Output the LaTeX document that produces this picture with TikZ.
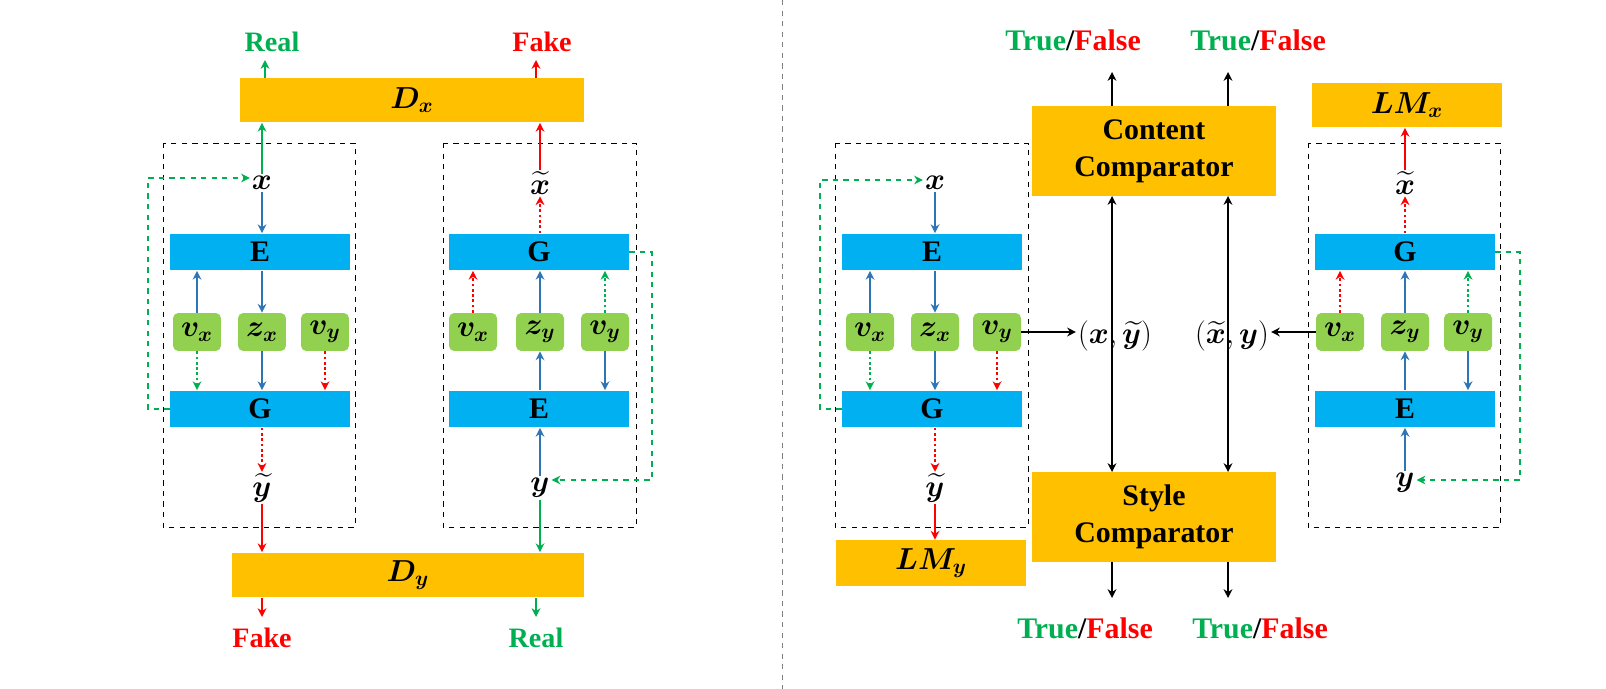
\documentclass[tikz,border=0pt]{standalone}
\usepackage{fontspec}
\setmainfont{Liberation Serif}
\usepackage{amsmath,bm}
\usetikzlibrary{arrows.meta}
\definecolor{bbar}{HTML}{00B0F0}
\definecolor{obar}{HTML}{FFC000}
\definecolor{gbox}{HTML}{92D050}
\definecolor{gtx}{HTML}{00B050}
\definecolor{rtx}{HTML}{FF0000}
\definecolor{barr}{HTML}{2E75B6}
\tikzset{
 bar/.style={fill=bbar,minimum width=3.6cm,minimum height=0.74cm,inner sep=0,font=\bfseries\fontsize{17}{17}\selectfont},
 obar/.style={fill=obar,inner sep=0,font=\bfseries\fontsize{17}{17}\selectfont},
 gb/.style={fill=gbox,rounded corners=3pt,minimum width=0.96cm,minimum height=0.76cm,inner sep=0,font=\fontsize{17}{17}\selectfont},
 var/.style={inner sep=1pt,font=\fontsize{18}{18}\selectfont},
 lab/.style={font=\bfseries\fontsize{16}{16}\selectfont,inner sep=0},
 tip/.style={-{Stealth[length=5pt,width=5pt]},line width=1.4pt},
 ba/.style={tip,draw=barr},
 ga/.style={tip,draw=gtx},
 ra/.style={tip,draw=rtx},
 gd/.style={ga,dash pattern=on 1.5pt off 1.5pt},
 rd/.style={ra,dash pattern=on 1.5pt off 1.5pt},
 gdash/.style={ga,dashed},
 ka/.style={tip,draw=black},
 kb/.style={{Stealth[length=5pt,width=5pt]}-{Stealth[length=5pt,width=5pt]},line width=1.4pt},
 dbox/.style={draw,dashed,thin},
}
\newcommand{\TF}{{\color{gtx}True}/{\color{rtx}False}}
\begin{document}
\begin{tikzpicture}[x=0.02cm,y=-0.02cm]
\useasboundingbox (0,0) rectangle (1606,689);
\draw[gray,dashed,thin] (782,0) -- (782,689);
% ===== LEFT PANEL
\node[obar,minimum width=6.9cm,minimum height=0.9cm] (Dx) at (412,100) {$\bm{D_x}$};
\node[obar,minimum width=7.04cm,minimum height=0.9cm] (Dy) at (408,575) {$\bm{D_y}$};
\node[lab,text=gtx] (real1) at (272,42) {Real};
\node[lab,text=rtx] (fake1) at (542,42) {Fake};
\node[lab,text=rtx] (fake2) at (262,638) {Fake};
\node[lab,text=gtx] (real2) at (536,638) {Real};
\coordinate (r1) at (265,60); \coordinate (f1) at (536,60);
\coordinate (f2) at (262,617); \coordinate (r2) at (536,617);
\draw[ga] (265,78) -- (r1);
\draw[ra] (536,78) -- (f1);
\draw[ra] (262,598) -- (f2);
\draw[ga] (536,598) -- (r2);
\draw[dbox] (163,143) rectangle (355,527);
\draw[dbox] (443,143) rectangle (636,527);
% left box
\node[var] (xa) at (262,183) {$\bm{x}$};
\node[bar] (Ea) at (260,252) {E};
\node[gb] (vxa) at (197,332) {$\bm{v_x}$};
\node[gb] (zxa) at (262,332) {$\bm{z_x}$};
\node[gb] (vya) at (325,332) {$\bm{v_y}$};
\node[bar] (Ga) at (260,409) {G};
\node[var] (yta) at (262,488) {$\bm{\widetilde{y}}$};
\draw[ga] (xa) -- (xa|-Dx.south);
\draw[ba] (xa) -- (xa|-Ea.north);
\draw[ba] (vxa) -- (vxa|-Ea.south);
\draw[ba] (zxa|-Ea.south) -- (zxa);
\draw[ba] (zxa) -- (zxa|-Ga.north);
\draw[gd] (vxa) -- (vxa|-Ga.north);
\draw[rd] (vya) -- (vya|-Ga.north);
\draw[rd] (yta|-Ga.south) -- (yta);
\draw[ra] (yta) -- (yta|-Dy.north);
\draw[gdash] (Ga.west) -- (148,409) -- (148,178) -- (xa.west|-0,178);
% right box
\node[var] (xtb) at (540,183) {$\bm{\widetilde{x}}$};
\node[bar] (Gb) at (539,252) {G};
\node[gb] (vxb) at (473,332) {$\bm{v_x}$};
\node[gb] (zyb) at (540,332) {$\bm{z_y}$};
\node[gb] (vyb) at (605,332) {$\bm{v_y}$};
\node[bar] (Eb) at (539,409) {E};
\node[var] (yb) at (540,488) {$\bm{y}$};
\draw[ra] (xtb) -- (xtb|-Dx.south);
\draw[rd] (xtb|-Gb.north) -- (xtb);
\draw[rd] (vxb) -- (vxb|-Gb.south);
\draw[ba] (zyb) -- (zyb|-Gb.south);
\draw[gd] (vyb) -- (vyb|-Gb.south);
\draw[ba] (zyb|-Eb.north) -- (zyb);
\draw[ba] (vyb) -- (vyb|-Eb.north);
\draw[ba] (yb) -- (yb|-Eb.south);
\draw[ga] (yb) -- (yb|-Dy.north);
\draw[gdash] (Gb.east) -- (652,252) -- (652,480) -- (yb.east|-0,480);
% ===== RIGHT PANEL
\draw[dbox] (835,143) rectangle (1028,527);
\draw[dbox] (1308,143) rectangle (1500,527);
\node[var] (xc) at (935,183) {$\bm{x}$};
\node[bar] (Ec) at (932,252) {E};
\node[gb] (vxc) at (870,332) {$\bm{v_x}$};
\node[gb] (zxc) at (935,332) {$\bm{z_x}$};
\node[gb] (vyc) at (997,332) {$\bm{v_y}$};
\node[bar] (Gc) at (932,409) {G};
\node[var] (ytc) at (935,488) {$\bm{\widetilde{y}}$};
\node[obar,minimum width=3.82cm,minimum height=0.92cm] (LMy) at (931,563) {$\bm{LM_y}$};
\draw[ba] (xc) -- (xc|-Ec.north);
\draw[ba] (vxc) -- (vxc|-Ec.south);
\draw[ba] (zxc|-Ec.south) -- (zxc);
\draw[ba] (zxc) -- (zxc|-Gc.north);
\draw[gd] (vxc) -- (vxc|-Gc.north);
\draw[rd] (vyc) -- (vyc|-Gc.north);
\draw[rd] (ytc|-Gc.south) -- (ytc);
\draw[ra] (ytc) -- (ytc|-LMy.north);
\draw[gdash] (Gc.west) -- (820,409) -- (820,180) -- (xc.west|-0,180);
\node[var] (xtd) at (1405,183) {$\bm{\widetilde{x}}$};
\node[bar] (Gd) at (1405,252) {G};
\node[gb] (vxd) at (1340,332) {$\bm{v_x}$};
\node[gb] (zyd) at (1405,332) {$\bm{z_y}$};
\node[gb] (vyd) at (1468,332) {$\bm{v_y}$};
\node[bar] (Ed) at (1405,409) {E};
\node[var] (yd) at (1405,483) {$\bm{y}$};
\node[obar,minimum width=3.82cm,minimum height=0.9cm] (LMx) at (1407,105) {$\bm{LM_x}$};
\draw[ra] (xtd) -- (xtd|-LMx.south);
\draw[rd] (xtd|-Gd.north) -- (xtd);
\draw[rd] (vxd) -- (vxd|-Gd.south);
\draw[ba] (zyd) -- (zyd|-Gd.south);
\draw[gd] (vyd) -- (vyd|-Gd.south);
\draw[ba] (zyd|-Ed.north) -- (zyd);
\draw[ba] (vyd) -- (vyd|-Ed.north);
\draw[ba] (yd) -- (yd|-Ed.south);
\draw[gdash] (Gd.east) -- (1520,252) -- (1520,480) -- (yd.east|-0,480);
% comparators
\node[obar,minimum width=4.88cm,minimum height=1.8cm,align=center,font=\bfseries\fontsize{17}{21}\selectfont] (CC) at (1154,151) {Content\\Comparator};
\node[obar,minimum width=4.88cm,minimum height=1.8cm,align=center,font=\bfseries\fontsize{17}{21}\selectfont] (SC) at (1154,517) {Style\\Comparator};
\node[var,font=\fontsize{17}{17}\selectfont] (p1) at (1115,336) {$(\bm{x},\bm{\widetilde{y}})$};
\node[var,font=\fontsize{17}{17}\selectfont] (p2) at (1232,336) {$(\bm{\widetilde{x}},\bm{y})$};
\draw[ka] (vyc.east) -- (p1.west|-vyc.east);
\draw[ka] (vxd.west) -- (p2.east|-vxd.west);
\draw[kb] (1112,196) -- (1112,472);
\draw[kb] (1228,196) -- (1228,472);
\node[lab,font=\bfseries\fontsize{17}{17}\selectfont] (t1) at (1073,40) {\TF};
\node[lab,font=\bfseries\fontsize{17}{17}\selectfont] (t2) at (1258,40) {\TF};
\node[lab,font=\bfseries\fontsize{17}{17}\selectfont] (t3) at (1085,628) {\TF};
\node[lab,font=\bfseries\fontsize{17}{17}\selectfont] (t4) at (1260,628) {\TF};
\draw[ka] (1112,106) -- (1112,72);
\draw[ka] (1228,106) -- (1228,72);
\draw[ka] (1112,562) -- (1112,598);
\draw[ka] (1228,562) -- (1228,598);
\end{tikzpicture}
\end{document}
